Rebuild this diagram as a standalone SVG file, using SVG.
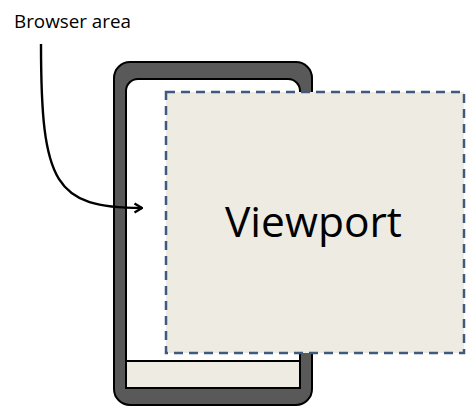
<svg xmlns="http://www.w3.org/2000/svg" width="474" height="417" viewBox="0 0 474 417">
<style>
.lbl{font-family:"Open Sans","Liberation Sans",sans-serif;fill:#000}
.edge{fill:none;stroke:#000;stroke-width:2.4}
</style>
<defs>
<marker id="ah" viewBox="0 0 10 12" refX="9" refY="6" markerWidth="10" markerHeight="12" orient="auto" markerUnits="userSpaceOnUse">
<path d="M1.5,1.5 L9,6 L1.5,10.5" fill="none" stroke="#000" stroke-width="2.4"/>
</marker>
</defs>
<rect width="474" height="417" fill="#fff"/>
<g id="device">
<rect x="114" y="62" width="198" height="343" rx="16" fill="#595959" stroke="#000" stroke-width="2"/>
<rect x="126" y="79" width="174" height="309" rx="12" fill="#fff" stroke="#000" stroke-width="2"/>
<path d="M126,361 H300 V388 H126 Z" fill="#eeebe2" stroke="#000" stroke-width="2"/>
</g>
<g id="viewport">
<rect x="166" y="92" width="298" height="261" fill="#eeebe2" stroke="#3e5a7e" stroke-width="2.5" stroke-dasharray="9,6"/>
<text class="lbl" x="225" y="237" font-size="42" textLength="177" lengthAdjust="spacingAndGlyphs">Viewport</text>
</g>
<g id="browser-area-label">
<text class="lbl" x="14" y="28" font-size="18" textLength="117" lengthAdjust="spacingAndGlyphs">Browser area</text>
</g>
<g id="connectors">
<path class="edge" d="M41,44 C41,185 55,208 142,208" marker-end="url(#ah)"/>
</g>
</svg>
